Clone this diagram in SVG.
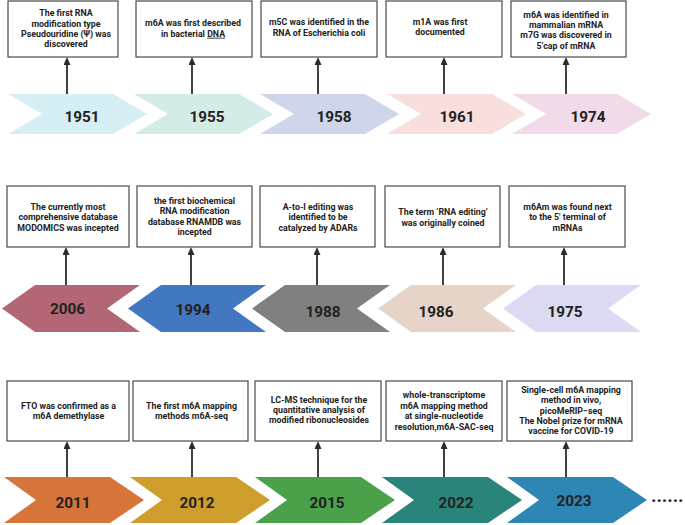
<svg xmlns="http://www.w3.org/2000/svg" width="685" height="525" viewBox="0 0 685 525">
<style>
.box{fill:#fff;stroke:#4a4a4a;stroke-width:1.2}
.t{font-family:Roboto,"Liberation Sans",sans-serif;font-weight:700;font-size:8.8px;fill:#222;text-anchor:middle}
.yr{font-family:Roboto,"Liberation Sans",sans-serif;font-weight:700;font-size:15.3px;fill:#222;text-anchor:middle}
.con{stroke:#2b2b2b;stroke-width:1.8;fill:none;marker-end:url(#ah)}
</style>
<defs>
<marker id="ah" viewBox="0 0 8 7" refX="4" refY="3.5" markerWidth="8" markerHeight="7" markerUnits="userSpaceOnUse" orient="auto">
<path d="M0,0 L8,3.5 L0,7 z" fill="#2b2b2b"/>
</marker>
</defs>
<rect width="685" height="525" fill="#fff"/>

<g id="connectors">
<line class="con" x1="67" y1="94" x2="67" y2="61"/>
<line class="con" x1="192" y1="94" x2="192" y2="61"/>
<line class="con" x1="318" y1="94" x2="318" y2="61"/>
<line class="con" x1="444" y1="94" x2="444" y2="61"/>
<line class="con" x1="566" y1="94" x2="566" y2="61"/>
<line class="con" x1="66" y1="285" x2="66" y2="251"/>
<line class="con" x1="191" y1="285" x2="191" y2="251"/>
<line class="con" x1="317" y1="285" x2="317" y2="251"/>
<line class="con" x1="443" y1="285" x2="443" y2="251"/>
<line class="con" x1="564" y1="285" x2="564" y2="251"/>
<line class="con" x1="67" y1="477" x2="67" y2="445"/>
<line class="con" x1="192" y1="477" x2="192" y2="445"/>
<line class="con" x1="318" y1="477" x2="318" y2="445"/>
<line class="con" x1="444" y1="477" x2="444" y2="445"/>
<line class="con" x1="566" y1="477" x2="566" y2="445"/>
</g>

<!-- Row 1 -->
<g id="y1951">
<polygon points="8,94 113,94 147,114 113,134 8,134 42,114" fill="#d6eff5"/>
<text class="yr" x="82" y="121.5">1951</text>
<rect class="box" x="8" y="1" width="110" height="56"/>
<text class="t" x="66" y="16">The first RNA</text>
<text class="t" x="66" y="26.5">modification type</text>
<text class="t" x="66" y="36.7">Pseudouridine (Ψ) was</text>
<text class="t" x="66" y="46.8">discovered</text>
</g>
<g id="y1955">
<polygon points="134,94 239,94 273,114 239,134 134,134 168,114" fill="#d3ece8"/>
<text class="yr" x="207" y="121.5">1955</text>
<rect class="box" x="136" y="1" width="116" height="56"/>
<text class="t" x="193" y="26">m6A was first described</text>
<text class="t" x="193" y="36.7">in bacterial <tspan text-decoration="underline">DNA</tspan></text>
</g>
<g id="y1958">
<polygon points="260,94 365,94 399,114 365,134 260,134 294,114" fill="#cfd5ea"/>
<text class="yr" x="334" y="121.5">1958</text>
<rect class="box" x="261" y="1" width="116" height="56"/>
<text class="t" x="319" y="25">m5C was identified in the</text>
<text class="t" x="319" y="36">RNA of Escherichia coli</text>
</g>
<g id="y1961">
<polygon points="387,94 492,94 526,114 492,134 387,134 421,114" fill="#f9dede"/>
<text class="yr" x="457" y="121.5">1961</text>
<rect class="box" x="386" y="1" width="116" height="56"/>
<text class="t" x="440" y="24.5">m1A was first</text>
<text class="t" x="440" y="35">documented</text>
</g>
<g id="y1974">
<polygon points="512,94 617,94 651,114 617,134 512,134 546,114" fill="#f1dbe8"/>
<text class="yr" x="588" y="121.5">1974</text>
<rect class="box" x="511" y="1" width="115" height="56"/>
<text class="t" x="566" y="18.3">m6A was identified in</text>
<text class="t" x="566" y="28.4">mammalian mRNA</text>
<text class="t" x="566" y="38.4">m7G was discovered in</text>
<text class="t" x="566" y="48.5">5’cap of mRNA</text>
</g>

<!-- Row 2 -->
<g id="y2006">
<polygon points="2,308.5 35,285 140,285 107,308.5 140,332 35,332" fill="#b36674"/>
<text class="yr" x="67.5" y="314">2006</text>
<rect class="box" x="7" y="186" width="122" height="61"/>
<text class="t" x="68" y="210">The currently most</text>
<text class="t" x="68" y="220.2">comprehensive database</text>
<text class="t" x="68" y="230.7">MODOMICS was incepted</text>
</g>
<g id="y1994">
<polygon points="128,308.5 161,285 266,285 233,308.5 266,332 161,332" fill="#4277c2"/>
<text class="yr" x="193" y="314.5">1994</text>
<rect class="box" x="137" y="186" width="115" height="61"/>
<text class="t" x="194.5" y="204.3">the first biochemical</text>
<text class="t" x="194.5" y="214.4">RNA modification</text>
<text class="t" x="194.5" y="225">database RNAMDB was</text>
<text class="t" x="194.5" y="235">incepted</text>
</g>
<g id="y1988">
<polygon points="252,308.5 285,285 390,285 357,308.5 390,332 285,332" fill="#808080"/>
<text class="yr" x="323" y="317">1988</text>
<rect class="box" x="260" y="186" width="115" height="61"/>
<text class="t" x="318" y="210">A-to-I editing was</text>
<text class="t" x="318" y="220.2">identified to be</text>
<text class="t" x="318" y="230.7">catalyzed by ADARs</text>
</g>
<g id="y1986">
<polygon points="378,308.5 411,285 516,285 483,308.5 516,332 411,332" fill="#e5d4c7"/>
<text class="yr" x="436" y="317">1986</text>
<rect class="box" x="385" y="186" width="115" height="61"/>
<text class="t" x="443" y="215">The term ‘RNA editing’</text>
<text class="t" x="443" y="225.6">was originally coined</text>
</g>
<g id="y1975">
<polygon points="503,308.5 536,285 641,285 608,308.5 641,332 536,332" fill="#dcdaf3"/>
<text class="yr" x="565" y="317">1975</text>
<rect class="box" x="509" y="186" width="116" height="61"/>
<text class="t" x="567.5" y="210">m6Am was found next</text>
<text class="t" x="567.5" y="220.2">to the 5′ terminal of</text>
<text class="t" x="567.5" y="230.7">mRNAs</text>
</g>

<!-- Row 3 -->
<g id="y2011">
<polygon points="4,477 110,477 144,500 110,523 4,523 36,500" fill="#d7743a"/>
<text class="yr" x="73" y="507.5">2011</text>
<rect class="box" x="7" y="381" width="122" height="60"/>
<text class="t" x="68.5" y="409">FTO was confirmed as a</text>
<text class="t" x="68.5" y="419.3">m6A demethylase</text>
</g>
<g id="y2012">
<polygon points="130,477 236,477 270,500 236,523 130,523 162,500" fill="#cf9d2c"/>
<text class="yr" x="197" y="507.5">2012</text>
<rect class="box" x="133" y="381" width="115" height="60"/>
<text class="t" x="191.5" y="409">The first m6A mapping</text>
<text class="t" x="191.5" y="419.3">methods m6A-seq</text>
</g>
<g id="y2015">
<polygon points="255,477 361,477 395,500 361,523 255,523 287,500" fill="#4aa14a"/>
<text class="yr" x="327" y="507.5">2015</text>
<rect class="box" x="255" y="381" width="126" height="60"/>
<text class="t" x="319" y="403.3">LC-MS technique for the</text>
<text class="t" x="319" y="413.3">quantitative analysis of</text>
<text class="t" x="319" y="423.3">modified ribonucleosides</text>
</g>
<g id="y2022">
<polygon points="382,477 488,477 522,500 488,523 382,523 414,500" fill="#2a8479"/>
<text class="yr" x="456" y="507.5">2022</text>
<rect class="box" x="386" y="381" width="116" height="60"/>
<text class="t" x="444" y="398.3">whole-transcriptome</text>
<text class="t" x="444" y="409">m6A mapping method</text>
<text class="t" x="444" y="419.3">at single-nucleotide</text>
<text class="t" x="444" y="430">resolution,m6A-SAC-seq</text>
</g>
<g id="y2023">
<polygon points="507,477 613,477 647,500 613,523 507,523 539,500" fill="#2e86b5"/>
<text class="yr" x="574" y="506">2023</text>
<rect class="box" x="507" y="381" width="125" height="60"/>
<text class="t" x="571" y="393.3">Single-cell m6A mapping</text>
<text class="t" x="571" y="403.3">method in vivo,</text>
<text class="t" x="571" y="414">picoMeRIP−seq</text>
<text class="t" x="571" y="424">The Nobel prize for mRNA</text>
<text class="t" x="571" y="434">vaccine for COVID-19</text>
</g>
<text x="651" y="501.5" font-family="Roboto,'Liberation Sans',sans-serif" font-weight="700" font-size="19" fill="#222" letter-spacing="-0.1">......</text>
</svg>
